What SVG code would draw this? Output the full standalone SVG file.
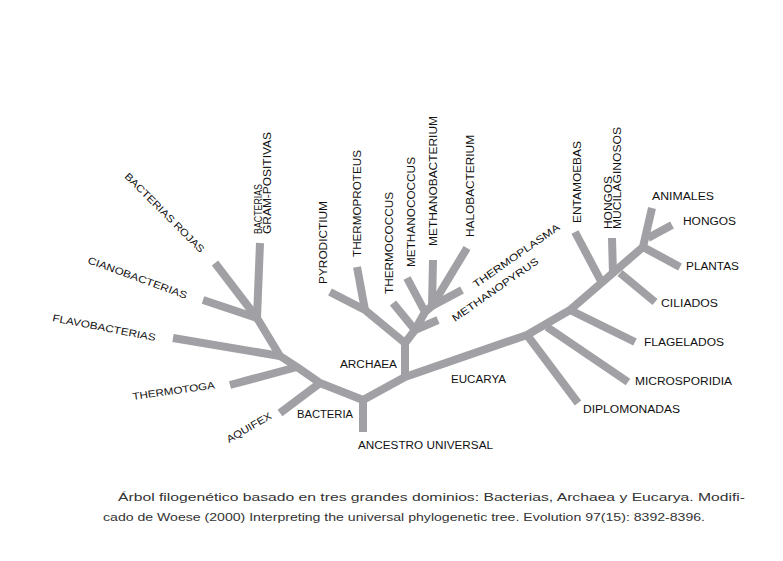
<svg xmlns="http://www.w3.org/2000/svg" width="783" height="561" viewBox="0 0 783 561">
<style>
.b{fill:none;stroke:#a1a1a5;stroke-width:8;stroke-linecap:butt;stroke-linejoin:round}
text{font-family:"Liberation Sans",Arial,sans-serif;font-size:10px;fill:#111;lengthAdjust:spacingAndGlyphs}
.c{font-size:11px;fill:#333}
</style>
<rect width="783" height="561" fill="#fff"/>
<g id="connectors">
<polyline class="b" points="363,432 363,400 320,383 297,367 280,356 257,318 260,243"/>
<line class="b" x1="320" y1="383" x2="280" y2="413"/>
<line class="b" x1="297" y1="367" x2="230" y2="385"/>
<line class="b" x1="280" y1="356" x2="173" y2="338"/>
<line class="b" x1="257" y1="318" x2="203" y2="300"/>
<line class="b" x1="257" y1="318" x2="215" y2="263"/>
<polyline class="b" points="363,400 405,377 527,335 570,310 643,247 652,208"/>
<polyline class="b" points="405,377 405,343 365,310 330,292"/>
<line class="b" x1="365" y1="310" x2="357" y2="267"/>
<polyline class="b" points="405,343 415,330 438,320"/>
<polyline class="b" points="415,330 393,303"/>
<polyline class="b" points="415,330 425,312 407,278"/>
<polyline class="b" points="425,312 432,306 433,260"/>
<line class="b" x1="432" y1="306" x2="467" y2="248"/>
<line class="b" x1="432" y1="306" x2="462" y2="290"/>
<line class="b" x1="648" y1="238" x2="672" y2="225"/>
<line class="b" x1="643" y1="247" x2="680" y2="267"/>
<line class="b" x1="620" y1="273" x2="655" y2="302"/>
<line class="b" x1="613" y1="274" x2="612" y2="238"/>
<line class="b" x1="602" y1="283" x2="575" y2="232"/>
<line class="b" x1="570" y1="310" x2="635" y2="342"/>
<line class="b" x1="547" y1="327" x2="628" y2="382"/>
<line class="b" x1="527" y1="335" x2="578" y2="403"/>
</g>
<g id="labels">
<text transform="translate(124,177) rotate(45)" textLength="108" lengthAdjust="spacingAndGlyphs">BACTERIAS ROJAS</text>
<text transform="translate(262,234) rotate(-90)" textLength="50" lengthAdjust="spacingAndGlyphs">BACTERIAS</text>
<text transform="translate(271,234) rotate(-90)" textLength="102" lengthAdjust="spacingAndGlyphs">GRAM-POSITIVAS</text>
<text transform="translate(87,263) rotate(20)" textLength="105" lengthAdjust="spacingAndGlyphs">CIANOBACTERIAS</text>
<text transform="translate(52,321) rotate(11)" textLength="105" lengthAdjust="spacingAndGlyphs">FLAVOBACTERIAS</text>
<text transform="translate(133,400) rotate(-8)" textLength="83" lengthAdjust="spacingAndGlyphs">THERMOTOGA</text>
<text transform="translate(229,443) rotate(-30)" textLength="50" lengthAdjust="spacingAndGlyphs">AQUIFEX</text>
<text x="297" y="418" textLength="56" lengthAdjust="spacingAndGlyphs">BACTERIA</text>
<text x="358" y="449" textLength="135" lengthAdjust="spacingAndGlyphs">ANCESTRO UNIVERSAL</text>
<text x="340" y="368" textLength="57" lengthAdjust="spacingAndGlyphs">ARCHAEA</text>
<text x="451" y="383" textLength="55" lengthAdjust="spacingAndGlyphs">EUCARYA</text>
<text transform="translate(327,284) rotate(-90)" textLength="83" lengthAdjust="spacingAndGlyphs">PYRODICTIUM</text>
<text transform="translate(361,257) rotate(-90)" textLength="107" lengthAdjust="spacingAndGlyphs">THERMOPROTEUS</text>
<text transform="translate(393,294) rotate(-90)" textLength="102" lengthAdjust="spacingAndGlyphs">THERMOCOCCUS</text>
<text transform="translate(415,267) rotate(-90)" textLength="110" lengthAdjust="spacingAndGlyphs">METHANOCOCCUS</text>
<text transform="translate(437,246) rotate(-90)" textLength="130" lengthAdjust="spacingAndGlyphs">METHANOBACTERIUM</text>
<text transform="translate(474,237) rotate(-90)" textLength="102" lengthAdjust="spacingAndGlyphs">HALOBACTERIUM</text>
<text transform="translate(476,288) rotate(-35)" textLength="103" lengthAdjust="spacingAndGlyphs">THERMOPLASMA</text>
<text transform="translate(455,322) rotate(-35)" textLength="103" lengthAdjust="spacingAndGlyphs">METHANOPYRUS</text>
<text transform="translate(581,223) rotate(-90)" textLength="82" lengthAdjust="spacingAndGlyphs">ENTAMOEBAS</text>
<text transform="translate(612,229) rotate(-90)" textLength="53" lengthAdjust="spacingAndGlyphs">HONGOS</text>
<text transform="translate(621,229) rotate(-90)" textLength="102" lengthAdjust="spacingAndGlyphs">MUCILAGINOSOS</text>
<text x="652" y="200" textLength="62" lengthAdjust="spacingAndGlyphs">ANIMALES</text>
<text x="683" y="225" textLength="53" lengthAdjust="spacingAndGlyphs">HONGOS</text>
<text x="686" y="270" textLength="53" lengthAdjust="spacingAndGlyphs">PLANTAS</text>
<text x="661" y="307" textLength="57" lengthAdjust="spacingAndGlyphs">CILIADOS</text>
<text x="644" y="346" textLength="80" lengthAdjust="spacingAndGlyphs">FLAGELADOS</text>
<text x="635" y="385" textLength="97" lengthAdjust="spacingAndGlyphs">MICROSPORIDIA</text>
<text x="583" y="413" textLength="97" lengthAdjust="spacingAndGlyphs">DIPLOMONADAS</text>
</g>
<text class="c" x="118" y="501" textLength="627" lengthAdjust="spacingAndGlyphs">Árbol filogenético basado en tres grandes dominios: Bacterias, Archaea y Eucarya. Modifi-</text>
<text class="c" x="103" y="521" textLength="602" lengthAdjust="spacingAndGlyphs">cado de Woese (2000) Interpreting the universal phylogenetic tree. Evolution 97(15): 8392-8396.</text>
</svg>
